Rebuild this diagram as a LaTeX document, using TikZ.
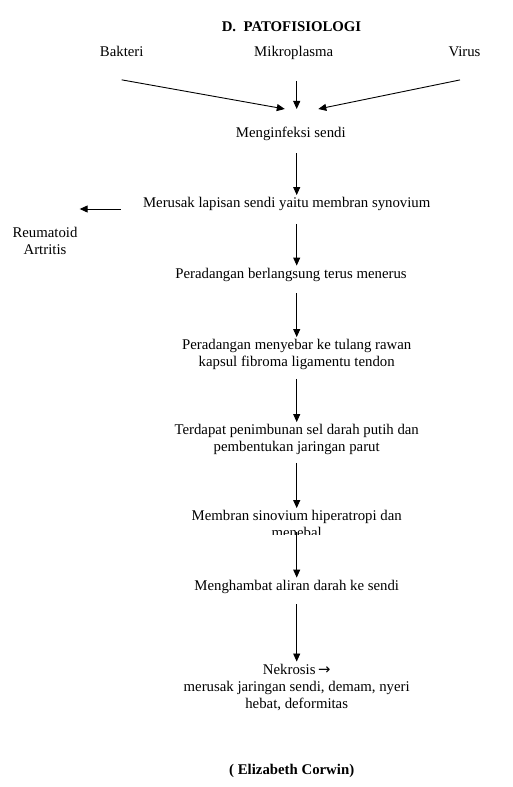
\documentclass[tikz,border=0pt]{standalone}
\usepackage{fontspec}
\setmainfont{Liberation Serif}
\newfontfamily\pfeilfont{DejaVu Sans}
\usetikzlibrary{arrows.meta}

\begin{document}
\begin{tikzpicture}[x=1pt,y=-1pt,
  every node/.style={font=\fontsize{14.8}{17}\selectfont,align=center,inner sep=2pt},
  arr/.style={-{Triangle[length=8pt,width=7pt]},line width=0.9pt,shorten <=#1},
  arr/.default=10pt]
\useasboundingbox (0,0) rectangle (513,787);
\coordinate (col) at (296.7,0);
\node[font=\fontsize{14.8}{17}\selectfont\bfseries] (judul) at (291.5,27) {D.\ \ PATOFISIOLOGI};
\node[anchor=base] (bakteri) at (121.7,56.5) {Bakteri};
\node[anchor=base] (mikro) at (293.7,56.5) {Mikroplasma};
\node[anchor=base] (virus) at (464.5,56.5) {Virus};
\node (infeksi) at (290.8,134) {Menginfeksi sendi};
\node (merusak) at (286.7,204) {Merusak lapisan sendi yaitu membran synovium};
\node (ra) at (45,240.5) {Reumatoid\\Artritis};
\node (radang) at (291,274.5) {Peradangan berlangsung terus menerus};
\node (menyebar) at (296.7,354.5) {Peradangan menyebar ke tulang rawan\\kapsul fibroma ligamentu tendon};
\node (timbun) at (296.7,439.5) {Terdapat penimbunan sel darah putih dan\\pembentukan jaringan parut};
\begin{scope}
\clip (0,0) rectangle (513,534);
\node (membran) at (296.7,524) {Membran sinovium hiperatropi dan\\menebal};
\end{scope}
\node (hambat) at (296.7,586.5) {Menghambat aliran darah ke sendi};
\node (nekrosis) at (296.7,687) {Nekrosis{\pfeilfont\,→}\\merusak jaringan sendi, demam, nyeri\\hebat, deformitas};
\node[font=\fontsize{14.8}{17}\selectfont\bfseries] (sumber) at (291.7,770.5) {( Elizabeth Corwin)};

\draw[arr=0pt] ([yshift=-21pt]bakteri.south) -- ([shift={(-6pt,16pt)}]infeksi.north);
\draw[arr=19pt] (mikro.south -| col) -- ([yshift=16pt]infeksi.north -| col);
\draw[arr=0pt] ([shift={(-4.5pt,-21pt)}]virus.south) -- ([shift={(27.5pt,16pt)}]infeksi.north);
\draw[arr] (infeksi.south -| col) -- (merusak.north -| col);
\draw[arr=20pt] ([yshift=-5pt]merusak.west) -- ([yshift=-5pt]merusak.west -| ra.east);
\draw[arr=11pt] (merusak.south -| col) -- (radang.north -| col);
\draw[arr=10pt] (radang.south -| col) -- (menyebar.north -| col);
\draw[arr=7pt] (menyebar.south -| col) -- (timbun.north -| col);
\draw[arr=6pt] (timbun.south -| col) -- (membran.north -| col);
\draw[arr=-8pt] (membran.south -| col) -- (hambat.north -| col);
\draw[arr=9pt] (hambat.south -| col) -- (nekrosis.north -| col);
\end{tikzpicture}
\end{document}
